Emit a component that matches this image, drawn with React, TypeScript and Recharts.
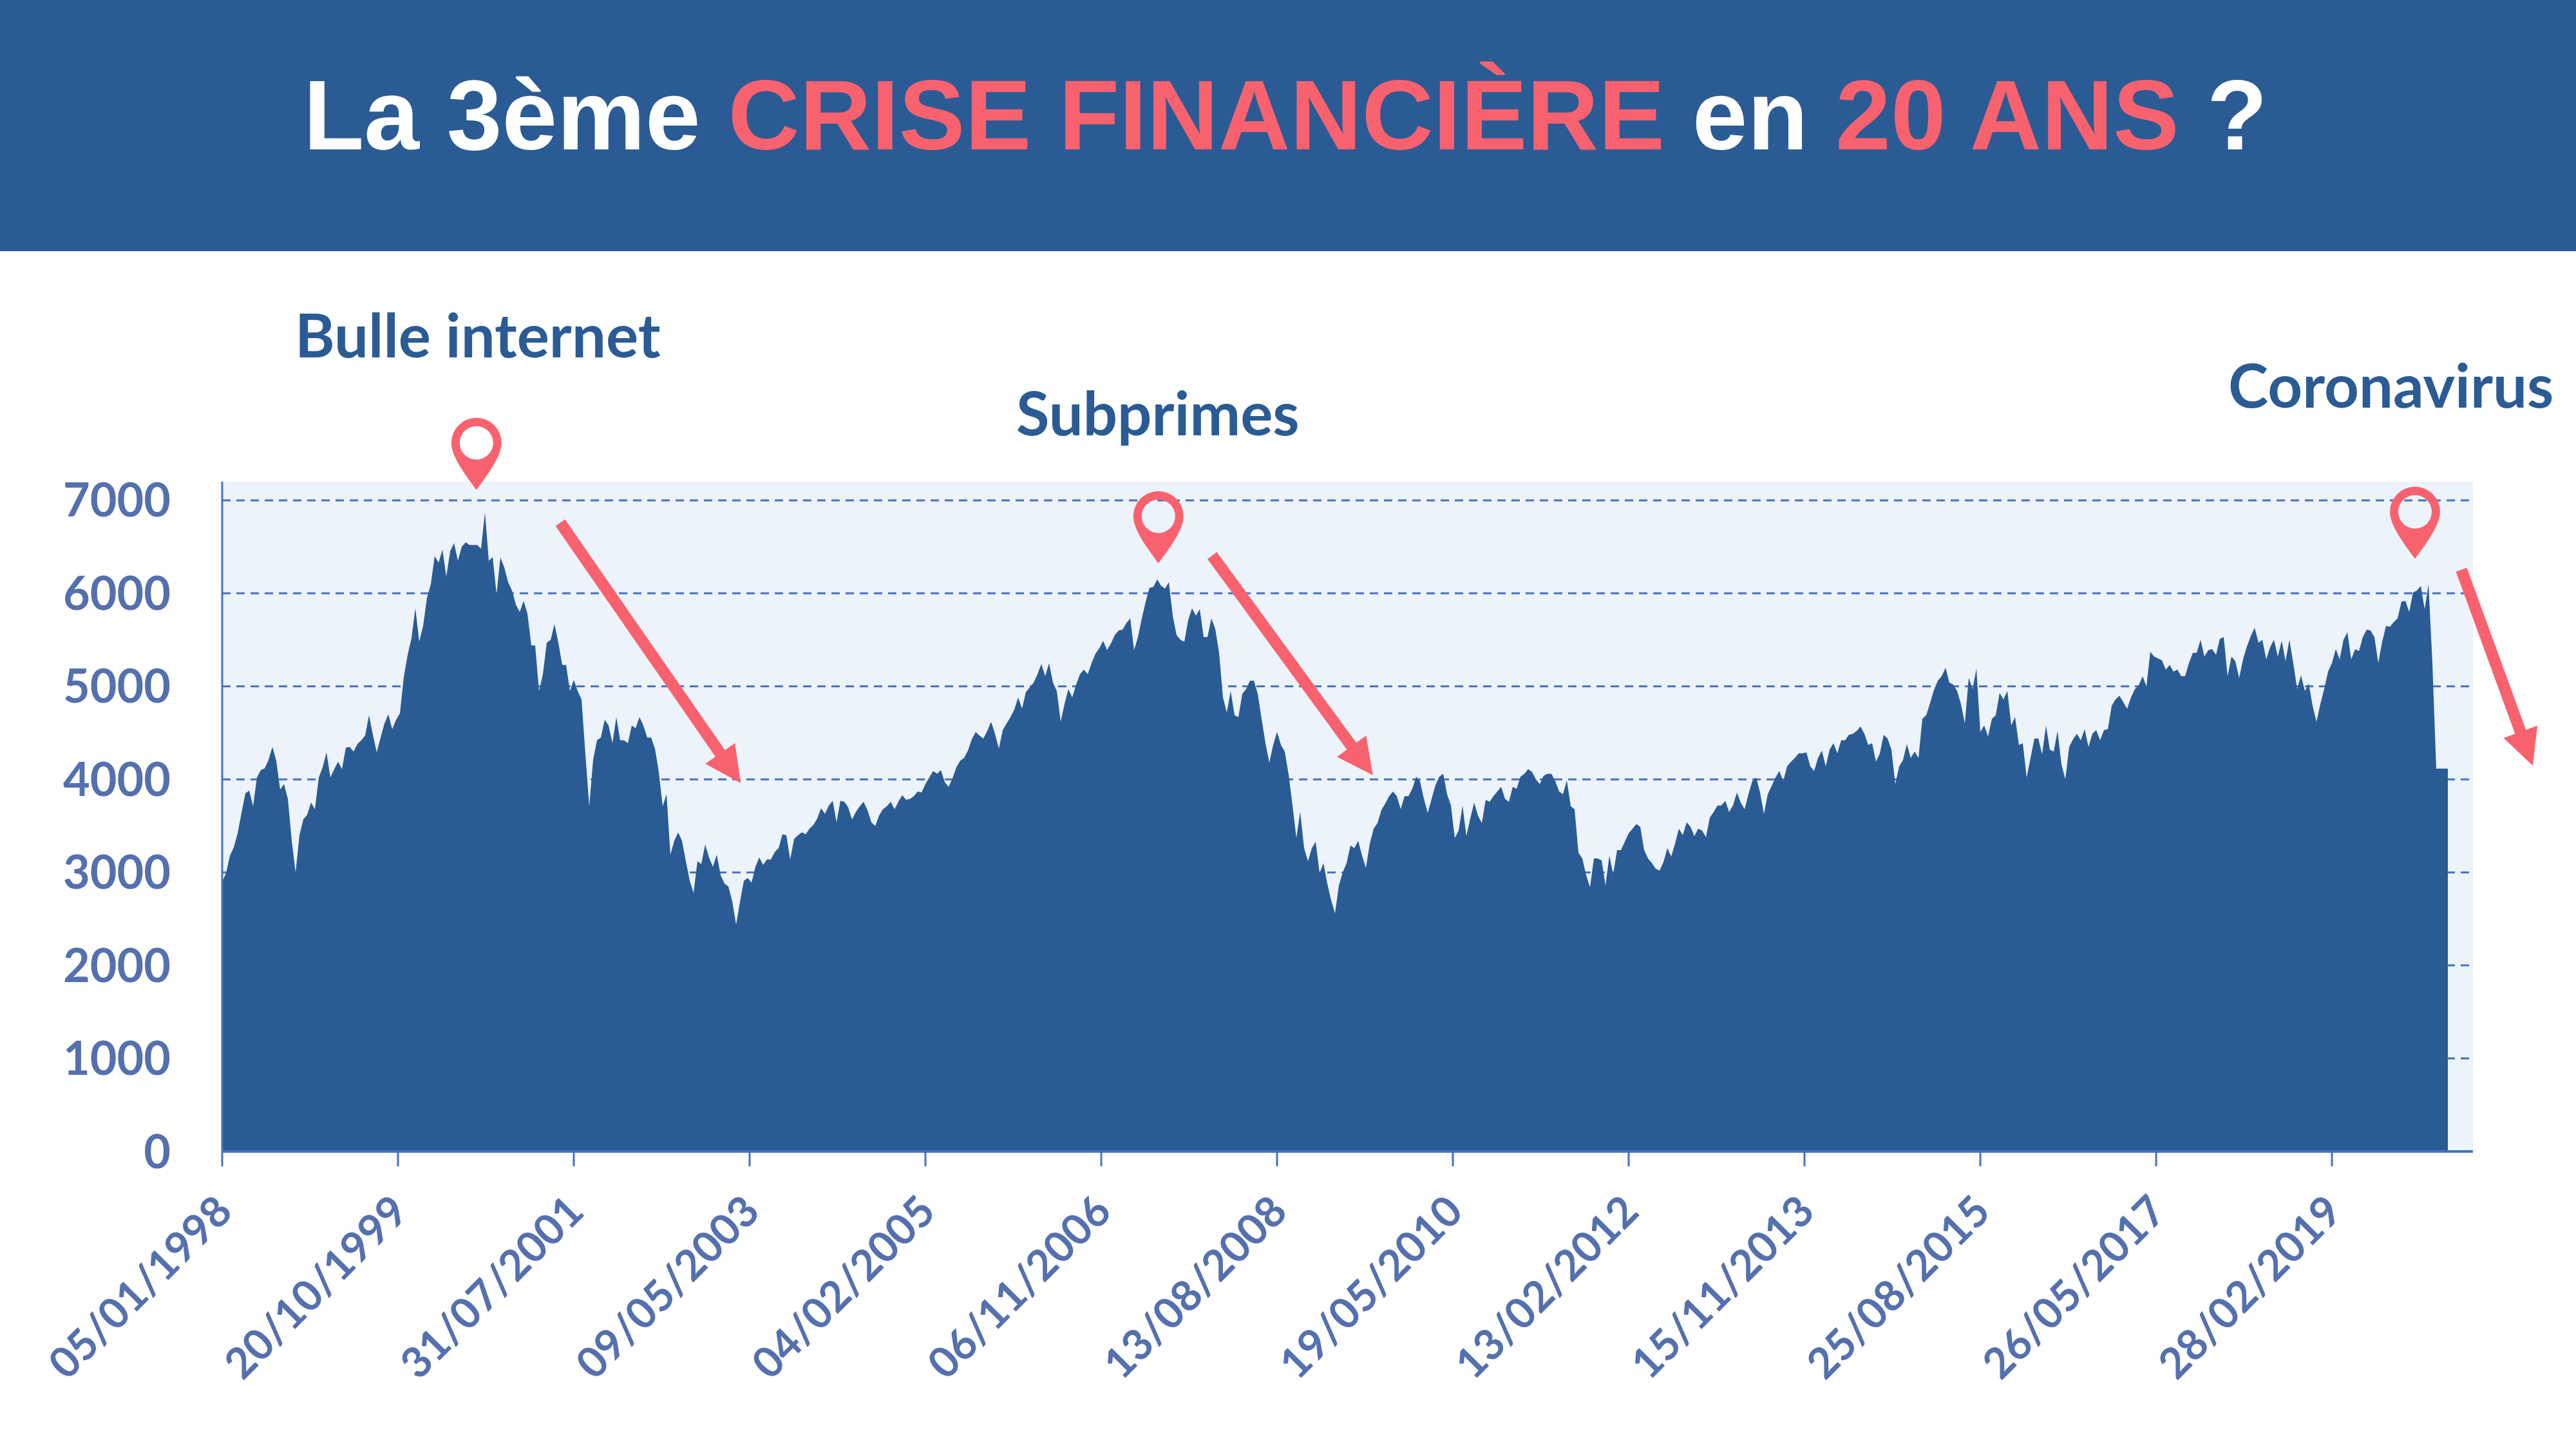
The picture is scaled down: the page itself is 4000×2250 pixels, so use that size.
import React from 'react';
import { AreaChart, Area, XAxis, YAxis, CartesianGrid, ReferenceDot, ReferenceLine } from 'recharts';

// closing values, one reading every 6 px of plot width
const closes1998 = [
  2900, 2990, 3180, 3270, 3420, 3640, 3850, 3880, 3710, 4020, 4100, 4120,
  4210, 4350, 4200, 3890, 3950, 3790, 3340, 3000, 3400, 3570, 3620, 3750,
  3680, 4020, 4130, 4290, 4020, 4110, 4190, 4110, 4340, 4350, 4300, 4380,
  4420, 4470, 4690, 4480, 4290, 4450, 4600, 4700, 4540, 4640, 4710, 5100,
  5340, 5520, 5840, 5480, 5650, 5950, 6100, 6400, 6330, 6470, 6180, 6450,
  6540, 6350, 6500, 6550, 6520, 6520, 6520, 6480, 6870, 6350, 6390, 5990,
];
const closes2001 = [
  6385, 6280, 6120, 6030, 5880, 5800, 5920, 5780, 5440, 5440, 4950, 5130,
  5470, 5500, 5670, 5470, 5230, 5230, 4950, 5070, 4950, 4860, 4270, 3710,
  4210, 4420, 4450, 4640, 4580, 4390, 4670, 4420, 4420, 4390, 4580, 4550,
  4670, 4580, 4450, 4450, 4330, 4080, 3710, 3840, 3190, 3340, 3430, 3340,
  3120, 2910, 2780, 3120, 3090, 3300, 3160, 3060, 3190, 2970, 2880, 2850,
  2690, 2440, 2680, 2910, 2940, 2890, 3060, 3160, 3080, 3140, 3140, 3220,
];
const closes2004 = [
  3260, 3410, 3400, 3140, 3360, 3400, 3430, 3410, 3470, 3510, 3580, 3690,
  3630, 3720, 3770, 3540, 3770, 3760, 3700, 3570, 3650, 3710, 3760, 3670,
  3540, 3500, 3610, 3680, 3710, 3760, 3680, 3760, 3830, 3780, 3790, 3820,
  3870, 3860, 3950, 4020, 4090, 4060, 4100, 3970, 3920, 4010, 4130, 4200,
  4230, 4310, 4430, 4510, 4470, 4440, 4520, 4620, 4490, 4330, 4530, 4600,
  4670, 4750, 4880, 4760, 4940, 4990, 5040, 5130, 5240, 5110, 5250, 5040,
];
const closes2006 = [
  4950, 4620, 4810, 4970, 4880, 5020, 5130, 5180, 5130, 5250, 5350, 5410,
  5490, 5390, 5460, 5550, 5600, 5610, 5680, 5730, 5390, 5530, 5730, 5910,
  6060, 6070, 6150, 6080, 6050, 6120, 5760, 5550, 5500, 5480, 5710, 5840,
  5760, 5830, 5530, 5530, 5730, 5620, 5360, 4880, 4720, 4950, 4690, 4670,
  4920, 4970, 5060, 5060, 4920, 4650, 4390, 4180, 4370, 4510, 4370, 4300,
  4050, 3720, 3370, 3650, 3260, 3120, 3260, 3330, 2990, 3100, 2880, 2700,
];
const closes2009 = [
  2560, 2860, 3000, 3100, 3290, 3260, 3340, 3180, 3050, 3310, 3470, 3530,
  3670, 3740, 3820, 3870, 3820, 3680, 3820, 3820, 3900, 4030, 3980, 3790,
  3640, 3790, 3940, 4030, 4060, 3840, 3720, 3370, 3450, 3720, 3390, 3580,
  3750, 3610, 3530, 3780, 3760, 3820, 3870, 3920, 3790, 3760, 3920, 3900,
  4030, 4060, 4110, 4080, 4000, 3950, 4040, 4060, 4060, 3980, 3870, 3840,
  3990, 3710, 3680, 3210, 3150, 2970, 2840, 3150, 3150, 3130, 2860, 3180,
];
const closes2012 = [
  2980, 3240, 3240, 3330, 3420, 3470, 3520, 3490, 3240, 3150, 3100, 3040,
  3020, 3110, 3260, 3170, 3310, 3470, 3400, 3540, 3490, 3390, 3470, 3450,
  3380, 3590, 3650, 3720, 3720, 3770, 3650, 3720, 3860, 3750, 3680, 3840,
  3980, 4020, 3860, 3630, 3840, 3930, 4020, 4090, 3980, 4140, 4190, 4230,
  4280, 4280, 4290, 4140, 4090, 4230, 4310, 4140, 4320, 4390, 4280, 4420,
  4420, 4480, 4490, 4520, 4570, 4490, 4370, 4390, 4190, 4280, 4480, 4440,
];
const closes2015 = [
  4320, 3950, 4140, 4210, 4380, 4230, 4300, 4230, 4650, 4690, 4820, 4960,
  5060, 5110, 5200, 5040, 5020, 4950, 4810, 4600, 5090, 4970, 5190, 4510,
  4580, 4460, 4650, 4690, 4930, 4860, 4950, 4580, 4670, 4370, 4390, 4020,
  4230, 4440, 4440, 4270, 4580, 4320, 4300, 4520, 4160, 4000, 4350, 4430,
  4490, 4420, 4540, 4350, 4490, 4530, 4420, 4530, 4540, 4790, 4860, 4900,
  4830, 4760, 4880, 4970, 5010, 5110, 5000, 5370, 5320, 5300, 5280, 5180,
];
const closes2018 = [
  5230, 5160, 5180, 5110, 5110, 5250, 5360, 5360, 5500, 5320, 5390, 5400,
  5340, 5510, 5530, 5110, 5320, 5270, 5090, 5290, 5430, 5540, 5630, 5470,
  5500, 5290, 5420, 5500, 5320, 5490, 5270, 5500, 5250, 4970, 5120, 4950,
  5030, 4790, 4620, 4810, 4970, 5160, 5250, 5400, 5290, 5500, 5580, 5290,
  5400, 5380, 5530, 5610, 5600, 5530, 5250, 5480, 5650, 5640, 5690, 5730,
  5910, 5920, 5800, 6010, 6030, 6080, 5830, 6100, 5250, 4115, 4115, 4115,
  4115,
];

const dateLabels = [
  '05/01/1998', '20/10/1999', '31/07/2001', '09/05/2003', '04/02/2005', '06/11/2006', '13/08/2008',
  '19/05/2010', '13/02/2012', '15/11/2013', '25/08/2015', '26/05/2017', '28/02/2019',
];
const valueTicks = [0, 1000, 2000, 3000, 4000, 5000, 6000, 7000];

const POINTS_PER_DATE = 45.5;
const LAST_SLOT = 582.5;

const closes = [...closes1998, ...closes2001, ...closes2004, ...closes2006, ...closes2009, ...closes2012, ...closes2015, ...closes2018];
const chartData = closes.map((close, slot) => ({ slot, close }));
const dateTicks = dateLabels.map((_, i) => i * POINTS_PER_DATE);

// crisis markers and their arrows, in axis units
const pins = [
  { slot: 65.8, value: 7112 },
  { slot: 242.3, value: 6323 },
  { slot: 567.5, value: 6371 },
];
const arrows = [
  { from: { slot: 87.5, value: 6760 }, to: { slot: 134.2, value: 3960 } },
  { from: { slot: 256.2, value: 6406 }, to: { slot: 297.8, value: 4044 } },
  { from: { slot: 579.5, value: 6254 }, to: { slot: 598, value: 4147 } },
];

const BLUE = '#2B5B94';
const PINK = '#F8626F';
const AXIS = '#4472C4';
const TICK_TEXT = '#5470AE';

const Pin = ({ cx, cy }: any) => (
  <path
    transform={`translate(${cx},${cy})`}
    fillRule="evenodd"
    fill={PINK}
    d="M0 0 C-12 -17 -39 -50 -39 -73 A39 39 0 1 1 39 -73 C39 -50 12 -17 0 0 Z M-26 -73 A26 26 0 1 0 26 -73 A26 26 0 1 0 -26 -73 Z"
  />
);

const Arrow = ({ x1, y1, x2, y2 }: any) => {
  const len = Math.hypot(x2 - x1, y2 - y1);
  const ux = (x2 - x1) / len;
  const uy = (y2 - y1) / len;
  const neckX = x2 - ux * 56;
  const neckY = y2 - uy * 56;
  const at = (x: number, y: number, side: number) => `${x - uy * side},${y + ux * side}`;
  const points = [
    at(x1, y1, 9), at(neckX, neckY, 9), at(neckX, neckY, 28), `${x2},${y2}`,
    at(neckX, neckY, -28), at(neckX, neckY, -9), at(x1, y1, -9),
  ].join(' ');
  return <polygon points={points} fill={PINK} />;
};

// date labels end just right of their tick, turned 45 degrees
const DateTick = ({ x, y, payload }: any) => (
  <text
    transform={`translate(${x + 19},${y + 74}) rotate(-45)`}
    textAnchor="end"
    fontFamily="Lato"
    fontWeight={700}
    fontSize={66}
    fill={TICK_TEXT}
  >
    {dateLabels[Math.round(payload.value / POINTS_PER_DATE)]}
  </text>
);

const App = () => (
  <div style={{ position: 'absolute', left: 0, top: 0, width: 4000, height: 2250, background: '#fff', overflow: 'hidden' }}>
    <div style={{ position: 'absolute', left: 0, top: 0, width: 4000, height: 390, background: BLUE }} />
    <svg width={4000} height={2250} style={{ position: 'absolute', left: 0, top: 0 }}>
      <text x={1996} y={232} textAnchor="middle" fontFamily="Liberation Sans" fontWeight={700} fontSize={154} fill="#fff">
        La 3ème <tspan fill={PINK}>CRISE FINANCIÈRE</tspan> en <tspan fill={PINK}>20 ANS</tspan> ?
      </text>
      <g fontFamily="Lato" fontWeight={700} fontSize={94} fill={BLUE}>
        <text x={458} y={555}>Bulle internet</text>
        <text x={1578} y={676}>Subprimes</text>
        <text x={3460} y={633}>Coronavirus</text>
      </g>
    </svg>
    <div style={{ position: 'absolute', left: 0, top: 0 }}>
      <AreaChart width={4000} height={2250} data={chartData} margin={{ top: 748, right: 160, bottom: 162, left: 245 }}>
        <CartesianGrid
          vertical={false}
          horizontalValues={valueTicks}
          fill="#ECF3FA"
          fillOpacity={1}
          stroke={AXIS}
          strokeWidth={3}
          strokeDasharray="13 9"
        />
        <XAxis
          dataKey="slot"
          type="number"
          domain={[0, LAST_SLOT]}
          ticks={dateTicks}
          interval={0}
          height={300}
          tick={<DateTick />}
          tickSize={23}
          tickMargin={0}
          tickLine={{ stroke: AXIS, strokeWidth: 3 }}
          axisLine={{ stroke: AXIS, strokeWidth: 4 }}
        />
        <YAxis
          type="number"
          domain={[0, 7200]}
          ticks={valueTicks}
          interval={0}
          width={100}
          tick={{ fill: TICK_TEXT, fontFamily: 'Lato', fontWeight: 700, fontSize: 72 }}
          tickSize={0}
          tickMargin={80}
          tickLine={false}
          axisLine={{ stroke: AXIS, strokeWidth: 3 }}
        />
        <Area
          type="linear"
          dataKey="close"
          stroke="none"
          fill={BLUE}
          fillOpacity={1}
          dot={false}
          activeDot={false}
          isAnimationActive={false}
        />
        {arrows.map((a, i) => (
          <ReferenceLine
            key={`arrow-${i}`}
            segment={[{ x: a.from.slot, y: a.from.value }, { x: a.to.slot, y: a.to.value }]}
            ifOverflow="visible"
            shape={(props: any) => <Arrow {...props} />}
          />
        ))}
        {pins.map((p, i) => (
          <ReferenceDot
            key={`pin-${i}`}
            x={p.slot}
            y={p.value}
            ifOverflow="visible"
            shape={(props: any) => <Pin {...props} />}
          />
        ))}
      </AreaChart>
    </div>
  </div>
);

export default App;
